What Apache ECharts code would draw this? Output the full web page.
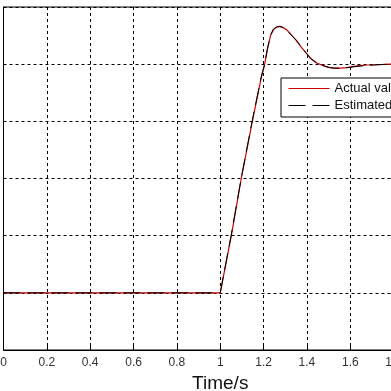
<!DOCTYPE html>
<html>
<head>
<meta charset="utf-8">
<script src="https://cdn.jsdelivr.net/npm/echarts@6/dist/echarts.min.js"></script>
<style>
html,body{margin:0;padding:0;background:#fff;}
#c{width:391px;height:391px;}
</style>
</head>
<body>
<div id="c"></div>
<script>
var timeS = [0, 1.0, 1.051, 1.097, 1.148, 1.19, 1.205, 1.217, 1.232, 1.245, 1.26, 1.275, 1.29, 1.307, 1.324, 1.35, 1.371, 1.395, 1.417, 1.445, 1.478, 1.5, 1.524, 1.555, 1.585, 1.631, 1.68, 1.723, 1.785, 1.9, 2.0];
var actualValue = [1, 1, 2, 3, 4, 4.78, 5.0, 5.25, 5.5, 5.6, 5.65, 5.66, 5.64, 5.6, 5.53, 5.42, 5.31, 5.2, 5.1, 5.02, 4.97, 4.945, 4.93, 4.93, 4.94, 4.97, 4.985, 4.99, 5.0, 5.0, 5.0];
var estimatedValue = [1, 1, 2.02, 3.01, 4.02, 4.79, 5.0, 5.26, 5.51, 5.61, 5.65, 5.66, 5.64, 5.59, 5.52, 5.42, 5.32, 5.2, 5.1, 5.02, 4.97, 4.945, 4.93, 4.93, 4.94, 4.96, 4.98, 4.99, 5.0, 5.0, 5.0];
var seriesNames = ['Actual value', 'Estimated value'];
var xTicks = {min: 0, max: 2, step: 0.2};
var yTicks = {min: 0, max: 6, step: 1};

function pairs(xs, ys){ return xs.map(function(x,i){ return [x, ys[i]]; }); }

var chart = echarts.init(document.getElementById('c'));
chart.setOption({
  backgroundColor: '#fff',
  animation: false,
  grid: {left: 3.5, top: 7, width: 433.5, bottom: 41, containLabel: false, outerBoundsMode: 'none',
    show: true, borderColor: '#000', borderWidth: 1, backgroundColor: 'transparent'},
  legend: {
    orient: 'vertical', left: 281, top: 78,
    backgroundColor: '#fff', borderColor: '#000', borderWidth: 1,
    padding: [4, 10, 5, 7], itemGap: 4, itemWidth: 41, itemHeight: 14,
    itemStyle: {opacity: 0},
    lineStyle: {width: 1},
    textStyle: {fontFamily: 'Liberation Sans, Arial', fontSize: 13, color: '#111'},
    data: seriesNames
  },
  xAxis: {
    type: 'value', min: xTicks.min, max: xTicks.max, interval: xTicks.step,
    name: 'Time/s', nameLocation: 'middle', nameGap: 20,
    nameTextStyle: {fontFamily: 'Liberation Sans, Arial', fontSize: 19, color: '#111'},
    axisLine: {show: true, lineStyle: {color: '#000', width: 1}},
    axisTick: {show: true, inside: true, length: 4, lineStyle: {color: '#000'}},
    axisLabel: {fontFamily: 'Liberation Sans, Arial', fontSize: 12, color: '#333', margin: 7,
      formatter: function(v){ return String(Math.round(v*10)/10); }},
    splitLine: {show: true, lineStyle: {color: '#000', type: [3, 3], width: 1}}
  },
  yAxis: {
    type: 'value', min: yTicks.min, max: yTicks.max, interval: yTicks.step,
    axisLine: {show: true, lineStyle: {color: '#000', width: 1}},
    axisTick: {show: false},
    axisLabel: {show: false},
    splitLine: {show: true, lineStyle: {color: '#000', type: [3, 3], width: 1}}
  },
  series: [
    {name: seriesNames[0], type: 'line', data: pairs(timeS, actualValue), symbol: 'none', smooth: false,
      lineStyle: {color: '#cc0000', width: 1.2}, itemStyle: {color: '#cc0000'}},
    {name: seriesNames[1], type: 'line', data: pairs(timeS, estimatedValue), symbol: 'none', smooth: false,
      lineStyle: {color: '#000', width: 1, type: [17, 7]}, itemStyle: {color: '#000'}}
  ]
});
</script>
</body>
</html>
